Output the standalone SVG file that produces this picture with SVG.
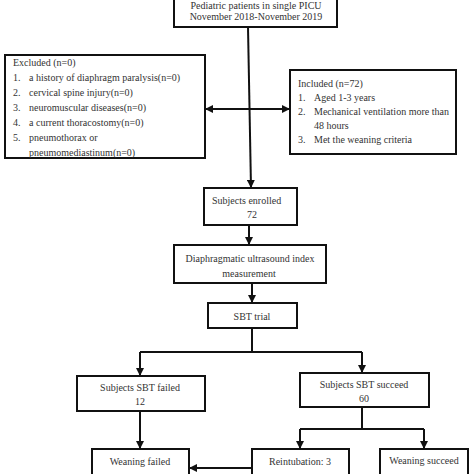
<svg xmlns="http://www.w3.org/2000/svg" width="474" height="474" viewBox="0 0 474 474">
<defs>
<marker id="ah" viewBox="0 0 10 10" refX="10" refY="5" markerWidth="4" markerHeight="4" orient="auto" markerUnits="strokeWidth">
<path d="M0,0 L10,5 L0,10 z" fill="#111"/>
</marker>
<style>
.box{fill:#fff;stroke:#111;stroke-width:2}
.t{font-family:"Liberation Serif","Times New Roman",serif;font-size:10px;fill:#333}
.c{text-anchor:middle}
.ln{fill:none;stroke:#111;stroke-width:2}
.ar{fill:none;stroke:#111;stroke-width:2;marker-end:url(#ah)}
</style>
</defs>
<rect width="474" height="474" fill="#fff"/>
<g id="connectors">
<path class="ar" d="M248,27 L251,188"/>
<path class="ar" d="M249,109 L205,109"/>
<path class="ar" d="M249,109 L290,109"/>
<path class="ar" d="M249,225 L249,245"/>
<path class="ar" d="M252,283 L252,303"/>
<path class="ln" d="M252,328 L252,352 M140,352 L362,352"/>
<path class="ar" d="M140,352 L140,376"/>
<path class="ar" d="M362,352 L362,373"/>
<path class="ar" d="M140,411 L140,449"/>
<path class="ln" d="M362,407 L362,429 M300,429 L424,429"/>
<path class="ar" d="M300,429 L300,449"/>
<path class="ar" d="M424,429 L424,449"/>
<path class="ar" d="M252,468 L189,468"/>
</g>
<g id="n-top">
<rect class="box" x="174" y="-10" width="163" height="37"/>
<text class="t c" x="256" y="8.5">Pediatric patients in single PICU</text>
<text class="t c" x="256" y="20">November 2018-November 2019</text>
</g>
<g id="n-excluded">
<rect class="box" x="5" y="55" width="200" height="103"/>
<text class="t" x="13" y="66">Excluded (n=0)</text>
<text class="t" x="13" y="81">1.</text><text class="t" x="29" y="81">a history of diaphragm paralysis(n=0)</text>
<text class="t" x="13" y="96">2.</text><text class="t" x="29" y="96">cervical spine injury(n=0)</text>
<text class="t" x="13" y="111">3.</text><text class="t" x="29" y="111">neuromuscular diseases(n=0)</text>
<text class="t" x="13" y="126">4.</text><text class="t" x="29" y="126">a current thoracostomy(n=0)</text>
<text class="t" x="13" y="141">5.</text><text class="t" x="29" y="141">pneumothorax or</text>
<text class="t" x="29" y="156">pneumomediastinum(n=0)</text>
</g>
<g id="n-included">
<rect class="box" x="290" y="70" width="166" height="84"/>
<text class="t" x="298" y="87">Included (n=72)</text>
<text class="t" x="298" y="101">1.</text><text class="t" x="314" y="101">Aged 1-3 years</text>
<text class="t" x="298" y="115">2.</text><text class="t" x="314" y="115" textLength="135" lengthAdjust="spacing">Mechanical ventilation more than</text>
<text class="t" x="314" y="129">48 hours</text>
<text class="t" x="298" y="143">3.</text><text class="t" x="314" y="143">Met the weaning criteria</text>
</g>
<g id="n-enrolled">
<rect class="box" x="204" y="188" width="93" height="37"/>
<text class="t" x="212" y="204">Subjects enrolled</text>
<text class="t c" x="252" y="218">72</text>
</g>
<g id="n-diaphragm">
<rect class="box" x="174" y="245" width="152" height="38"/>
<text class="t c" x="250" y="262">Diaphragmatic ultrasound index</text>
<text class="t c" x="249" y="277">measurement</text>
</g>
<g id="n-sbt">
<rect class="box" x="208" y="303" width="89" height="25"/>
<text class="t c" x="252" y="320">SBT trial</text>
</g>
<g id="n-sbt-failed">
<rect class="box" x="77" y="376" width="128" height="35"/>
<text class="t c" x="140" y="391">Subjects SBT failed</text>
<text class="t c" x="140" y="405">12</text>
</g>
<g id="n-sbt-succeed">
<rect class="box" x="300" y="373" width="129" height="34"/>
<text class="t c" x="364" y="388">Subjects SBT succeed</text>
<text class="t c" x="364" y="402">60</text>
</g>
<g id="n-weaning-failed">
<rect class="box" x="92" y="449" width="97" height="40"/>
<text class="t c" x="140" y="465">Weaning failed</text>
</g>
<g id="n-reintubation">
<rect class="box" x="252" y="449" width="97" height="40"/>
<text class="t c" x="300" y="465">Reintubation: 3</text>
</g>
<g id="n-weaning-succeed">
<rect class="box" x="380" y="449" width="88" height="40"/>
<text class="t c" x="424" y="464">Weaning succeed</text>
</g>
</svg>
